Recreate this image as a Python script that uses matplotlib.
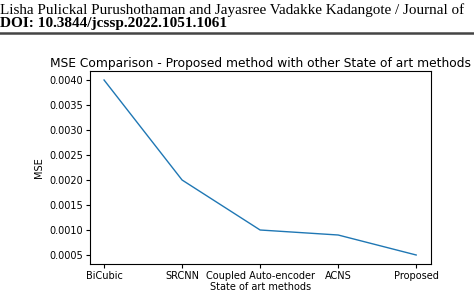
import matplotlib
matplotlib.use("Agg")
import matplotlib.pyplot as plt

# --- data ---
methods = ["BiCubic", "SRCNN", "Coupled Auto-encoder", "ACNS", "Proposed"]
mse = [0.0040, 0.0020, 0.0010, 0.0009, 0.0005]
yticks = [0.0005, 0.0010, 0.0015, 0.0020, 0.0025, 0.0030, 0.0035, 0.0040]

header = "Lisha Pulickal Purushothaman and Jayasree Vadakke Kadangote / Journal of"
doi = "DOI: 10.3844/jcssp.2022.1051.1061"

fig = plt.figure(figsize=(4.74, 2.92), dpi=100)

# page header from the paper
fig.text(0.0, 0.99, header, fontsize=10.9, family="Liberation Serif", va="top", ha="left")
fig.text(0.0, 0.942, doi, fontsize=11, family="Liberation Serif", weight="bold", va="top", ha="left")
fig.add_artist(plt.Line2D([0, 1], [0.887, 0.887], color="#444444", linewidth=1.8))

# axes box: x 90..431 px, y 71..264 px
ax = fig.add_axes([90 / 474, 1 - 264 / 292, 341 / 474, 193 / 292])
x = range(len(methods))
ax.plot(x, mse, color="#1f77b4", linewidth=1.0)

ax.set_xticks(list(x))
ax.set_xticklabels(methods, fontsize=7)
ax.set_yticks(yticks)
ax.set_yticklabels([f"{v:.4f}" for v in yticks], fontsize=7)
ax.set_xlim(-0.18, 4.19)
ax.set_ylim(0.00032, 0.00418)
ax.tick_params(length=3, width=0.8, pad=2)

ax.set_title("MSE Comparison - Proposed method with other State of art methods", fontsize=8.8, pad=3)
ax.set_xlabel("State of art methods", fontsize=7, labelpad=1)
ax.set_ylabel("MSE", fontsize=7)

fig.savefig("out.png", dpi=100)
